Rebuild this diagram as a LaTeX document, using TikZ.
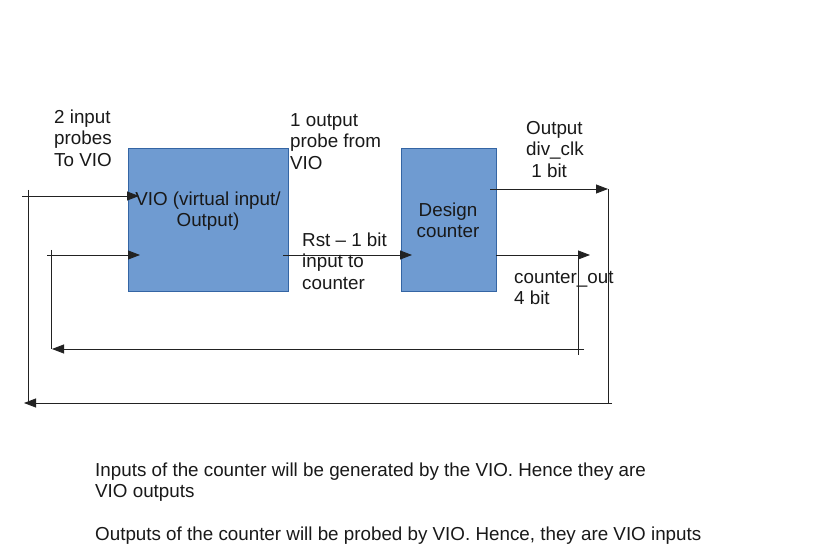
\documentclass[tikz,border=0pt]{standalone}
\usepackage{fontspec}
\setmainfont{Liberation Sans}
\usetikzlibrary{arrows.meta}
\definecolor{boxfill}{HTML}{6F9BD1}
\definecolor{boxline}{HTML}{3465A4}
\definecolor{wire}{HTML}{222222}
\tikzset{
  blk/.style={draw=boxline, fill=boxfill, line width=0.8pt, inner sep=0pt, anchor=north west},
  lbl/.style={inner sep=0pt, anchor=north west, align=left, font=\fontsize{18.8}{21.5}\selectfont, text=black!90},
  clbl/.style={inner sep=0pt, anchor=north, align=center, font=\fontsize{18.8}{21.5}\selectfont, text=black!90},
  wireline/.style={draw=wire, line width=0.8pt},
  arr/.style={wireline, -{Triangle[length=12pt,width=9pt]}},
}
\newcommand{\tp}{\rule{0pt}{15pt}}
\begin{document}
\begin{tikzpicture}[x=1pt,y=-1pt]
\useasboundingbox[fill=white] (0,0) rectangle (823,559);

% blocks
\node[blk, minimum width=160pt, minimum height=143pt] (vio) at (128,148) {};
\node[blk, minimum width=95pt, minimum height=143pt] (dc) at (401,148) {};

% block texts
\node[clbl] (viot) at (208,190) {\tp VIO (virtual input/\\Output)};
\node[clbl] (dct) at (448,201) {\tp Design\\counter};

% labels
\node[lbl] (l1) at (54,108) {\tp 2 input\\probes\\To VIO};
\node[lbl] (l2) at (290,111) {\tp 1 output\\probe from\\VIO};
\node[lbl] (l3) at (302,231) {\tp Rst – 1 bit\\input to\\counter};
\node[lbl] (l4) at (526,119) {\tp Output\\div\_clk\\\ 1 bit};
\node[lbl] (l5) at (514,268) {\tp counter\_out\\4 bit};
\node[lbl] (l6) at (95,461) {\tp Inputs of the counter will be generated by the VIO. Hence they are\\VIO outputs};
\node[lbl] (l7) at (95,525) {\tp Outputs of the counter will be probed by VIO. Hence, they are VIO inputs};

% coordinates
\coordinate (a1s) at (22,196);
\coordinate (a1e) at (139,196);
\coordinate (v1t) at (28,190);
\coordinate (v1b) at (28,403);
\coordinate (b1r) at (612,403);
\coordinate (b1l) at (24,403);

\coordinate (a2s) at (47,255);
\coordinate (a2e) at (140,255);
\coordinate (v2t) at (51,250);
\coordinate (v2b) at (51,349);
\coordinate (b2r) at (584,349);
\coordinate (b2l) at (52,349);

\coordinate (rs) at (283,255);
\coordinate (re) at (412,255);

\coordinate (ds) at (490,189);
\coordinate (de) at (608,189);
\coordinate (dv) at (608,403);

\coordinate (cs) at (496,255);
\coordinate (ce) at (590,255);
\coordinate (cvt) at (578,257);
\coordinate (cvb) at (578,355);

% connectors
\draw[arr] (a1s) -- (a1e);
\draw[wireline] (v1t) -- (v1b);
\draw[arr] (b1r) -- (b1l);

\draw[arr] (a2s) -- (a2e);
\draw[wireline] (v2t) -- (v2b);
\draw[arr] (b2r) -- (b2l);

\draw[arr] (rs) -- (re);

\draw[arr] (ds) -- (de);
\draw[wireline] (de) -- (dv);

\draw[arr] (cs) -- (ce);
\draw[wireline] (cvt) -- (cvb);
\end{tikzpicture}
\end{document}
